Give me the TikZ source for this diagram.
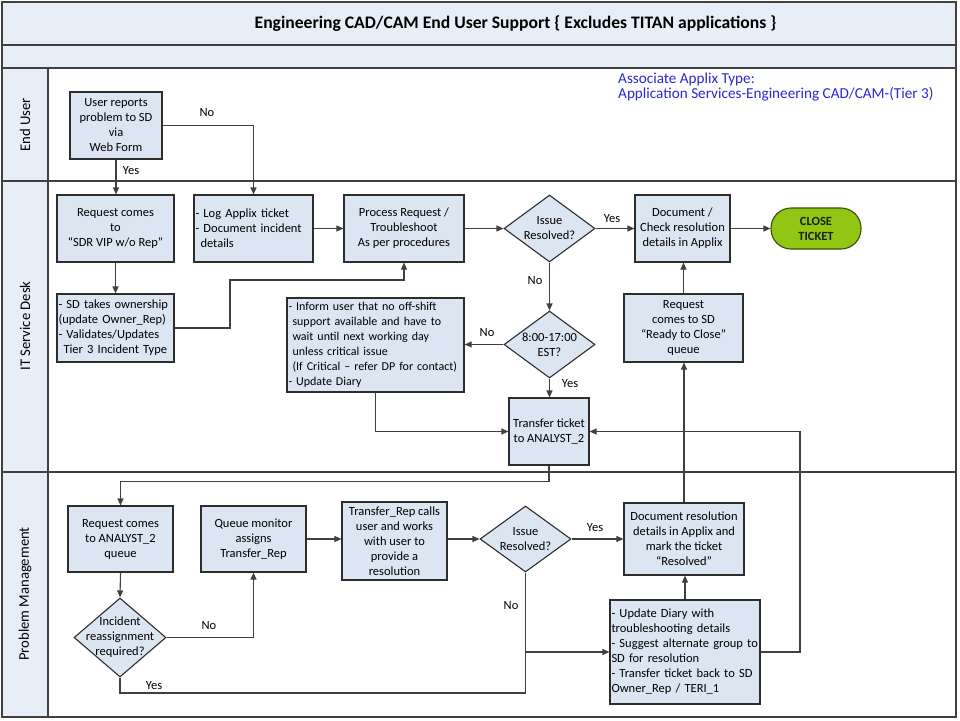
\documentclass[tikz,border=0pt]{standalone}
\usepackage{fontspec}
\setmainfont{Carlito}
\usetikzlibrary{arrows.meta,shapes.geometric,calc}
\definecolor{frame}{RGB}{64,64,64}
\definecolor{band}{RGB}{232,238,247}
\definecolor{boxfill}{RGB}{220,230,242}
\definecolor{boxline}{RGB}{45,45,45}
\definecolor{applix}{RGB}{40,40,210}
\definecolor{termfill}{RGB}{146,198,20}
\definecolor{termline}{RGB}{55,80,0}
\begin{document}
\begin{tikzpicture}[x=1pt,y=-1pt,
  txt/.style={font=\fontsize{12.5}{15}\selectfont, text=black},
  box/.style={txt, draw=boxline, fill=boxfill, line width=1.1pt, align=center, inner sep=0pt},
  lbox/.style={box, align=left, inner xsep=1.5pt, execute at begin node={\hyphenpenalty=10000\exhyphenpenalty=10000}},
  dec/.style={diamond, draw=boxline, fill=boxfill, line width=1.1pt, inner sep=0pt},
  lab/.style={txt, inner sep=0pt, align=center},
  arr/.style={draw=frame, line width=1.1pt, -{Triangle[length=7pt,width=6pt]}},
  ln/.style={draw=frame, line width=1.1pt},
  lane/.style={font=\fontsize{14.7}{17}\selectfont, rotate=90, inner sep=0pt},
  band line/.style={draw=frame, line width=1.6pt}
]
\useasboundingbox (0,0) rectangle (960,720);
% frame and lanes
\fill[band] (2,2) rectangle (956,68);
\fill[band] (2,68) rectangle (48,717);
\draw[band line] (2,45) -- (956,45);
\draw[band line] (2,68) -- (956,68);
\draw[band line] (48,68) -- (48,717);
\draw[band line] (2,181) -- (956,181);
\draw[band line] (2,472) -- (956,472);
\draw[band line] (2,2) rectangle (956,717);
\node[font=\fontsize{17.6}{20}\selectfont\bfseries, inner sep=0pt] (title) at (515.5,24) {Engineering CAD/CAM End User Support \{ Excludes TITAN applications \}};
\node[lane] (l1) at (25,125) {End User};
\node[lane] (l2) at (25,326) {IT Service Desk};
\node[lane] (l3) at (25,594) {Problem Management};
\node[font=\fontsize{15.2}{15.5}\selectfont, text=applix, align=left, anchor=west, inner sep=0pt] (atype) at (618,87) {Associate Applix Type:\\Application Services-Engineering CAD/CAM-(Tier 3)};
% End user
\node[box, minimum width=92pt, minimum height=67pt] (user) at (116,125.5) {User reports\\problem to SD\\via\\Web Form};
% IT service desk
\node[box, minimum width=117pt, minimum height=67pt] (req) at (115.5,228.5) {Request comes\\to\\“SDR VIP w/o Rep”};
\node[lbox, text width=116pt, minimum height=67pt] (log) at (253.5,228.5) {- Log Applix ticket\\- Document incident\\\hspace*{5pt}details};
\node[box, minimum width=120pt, minimum height=67pt] (proc) at (404,228.5) {Process Request /\\Troubleshoot\\As per procedures};
\node[dec, minimum width=91pt, minimum height=67pt] (d1) at (549.5,228.5) {};
\node[lab] (d1t) at (d1) {Issue\\Resolved?};
\node[box, minimum width=95pt, minimum height=67pt] (doc) at (682.5,228.5) {Document /\\Check resolution\\details in Applix};
\node[draw=termline, fill=termfill, line width=1.1pt, rounded corners=20pt, minimum width=90pt, minimum height=41pt, inner sep=0pt, align=center, font=\fontsize{12.5}{15}\selectfont\bfseries, text={rgb,255:red,25;green,35;blue,10}] (close) at (816,228.5) {CLOSE\\TICKET};
\node[lbox, text width=114pt, minimum height=68pt] (sdo) at (115.5,328) {- SD takes ownership\\(update Owner\_Rep)\\- Validates/Updates\\\hspace*{5pt}Tier 3 Incident Type};
\node[lbox, text width=174pt, minimum height=94pt, font=\fontsize{12}{15}\selectfont] (inform) at (375.5,345) {\mbox{- Inform user that no off-shift}\\\mbox{\hspace*{4pt}support available and have to}\\\mbox{\hspace*{4pt}wait until next working day}\\\mbox{\hspace*{4pt}unless critical issue}\\\mbox{\hspace*{4pt}(If Critical – refer DP for contact)}\\\mbox{- Update Diary}};
\node[dec, minimum width=91pt, minimum height=67pt] (d2) at (549.5,344.5) {};
\node[lab] (d2t) at (d2) {8:00-17:00\\EST?};
\node[box, minimum width=80pt, minimum height=67pt] (xfer) at (549,431.5) {Transfer ticket\\to ANALYST\_2};
\node[box, minimum width=119pt, minimum height=68pt] (ready) at (683.5,328) {Request\\comes to SD\\“Ready to Close”\\queue};
% Problem management
\node[box, minimum width=105pt, minimum height=66pt] (an2) at (120.5,539) {Request comes\\to ANALYST\_2\\queue};
\node[box, minimum width=105pt, minimum height=66pt] (qm) at (253.5,539) {Queue monitor\\assigns\\Transfer\_Rep};
\node[box, minimum width=105pt, minimum height=78pt] (trep) at (394.5,541) {Transfer\_Rep calls\\user and works\\with user to\\provide a\\resolution};
\node[dec, minimum width=92pt, minimum height=79pt] (d3) at (120,637.5) {};
\node[lab] (d3t) at (d3) {Incident\\reassignment\\required?};
\node[dec, minimum width=91pt, minimum height=66pt] (d4) at (525.5,539) {};
\node[lab] (d4t) at (d4) {Issue\\Resolved?};
\node[box, minimum width=120pt, minimum height=72pt] (resdoc) at (684,539) {Document resolution\\details in Applix and\\mark the ticket\\“Resolved”};
\node[lbox, text width=147pt, minimum height=104pt] (upd) at (685,652) {- Update Diary with\\troubleshooting details\\- Suggest alternate group to\\SD for resolution\\- Transfer ticket back to SD\\Owner\_Rep / TERI\_1};
% junction coordinates
\coordinate (j1) at (230,280);
\coordinate (j2) at (800,431.5);
\coordinate (j3) at (525.5,693);
% connectors
\draw[arr] (user.east) -| (log.north);
\node[lab] (tno1) at (207,113) {No};
\draw[arr] (user.south) -- (user.south |- req.north);
\node[lab] (tyes1) at (131,171) {Yes};
\draw[arr] (req.south) -- (sdo.north);
\draw[arr] (sdo.east) -| (j1) -| (proc.south);
\draw[arr] (log.east) -- (proc.west);
\draw[arr] (proc.east) -- (d1.west);
\draw[arr] (d1.east) -- (doc.west);
\node[lab] (tyes2) at (612,219) {Yes};
\draw[arr] (doc.east) -- (close.west);
\draw[arr] (d1.south) -- (d2.north);
\node[lab] (tno2) at (535,281) {No};
\draw[arr] (d2.west) -- (d2.west -| inform.east);
\node[lab] (tno3) at (487,333) {No};
\draw[arr] (d2.south) -- (d2.south |- xfer.north);
\node[lab] (tyes3) at (570,384) {Yes};
\draw[arr] (inform.south) |- (xfer.west);
\draw[arr] (ready.north) -- (ready.north |- doc.south);
\draw[arr] (xfer.south) -- ++(0,16) -| (an2.north);
\draw[arr] (an2.south) -- (d3.north);
\draw[arr] (d3.east) -| (qm.south);
\node[lab] (tno4) at (209,626) {No};
\draw[arr] (qm.east) -- (qm.east -| trep.west);
\draw[arr] (d4.west -| trep.east) -- (d4.west);
\draw[arr] (d4.east) -- (resdoc.west);
\node[lab] (tyes4) at (595,528) {Yes};
\draw[arr] (d4.south) |- (upd.west);
\node[lab] (tno5) at (511,606) {No};
\draw[ln] (d3.south) |- (j3) -- (d4.south |- upd.west);
\node[lab] (tyes5) at (154,686) {Yes};
\draw[arr] (upd.north) -- (upd.north |- resdoc.south);
\draw[arr] (resdoc.north) -- (resdoc.north |- ready.south);
\draw[arr] (upd.east) -| (j2) -- (xfer.east);
\end{tikzpicture}
\end{document}
